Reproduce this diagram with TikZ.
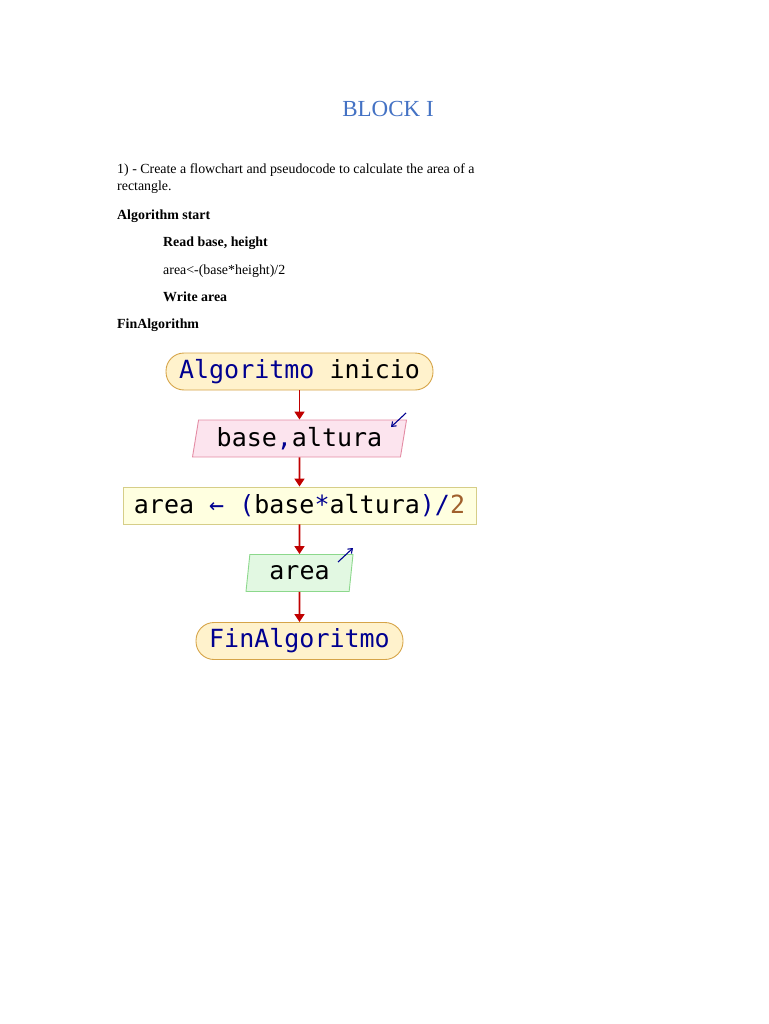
\documentclass[tikz,border=0pt]{standalone}
\usepackage{fontspec}
\setmainfont{Liberation Serif}
\newfontfamily\codefont{DejaVu Sans Mono}
\usetikzlibrary{arrows.meta,shapes.geometric}
\definecolor{termfill}{HTML}{FFF2CC}
\definecolor{termdraw}{HTML}{D6A448}
\definecolor{infill}{HTML}{FCE4EE}
\definecolor{indraw}{HTML}{E48CA4}
\definecolor{procfill}{HTML}{FFFFE0}
\definecolor{procdraw}{HTML}{D6CE88}
\definecolor{outfill}{HTML}{E2F8E2}
\definecolor{outdraw}{HTML}{8CD88C}
\definecolor{flowred}{HTML}{C00000}
\definecolor{kw}{HTML}{000090}
\definecolor{num}{HTML}{A0602D}
\definecolor{title}{HTML}{4472C4}
\tikzset{
  body/.style={anchor=base west,inner sep=0pt,font=\fontsize{13.9}{16}\selectfont},
  bbody/.style={body,font=\fontsize{13.9}{16}\selectfont\bfseries},
  term/.style={draw=termdraw,fill=termfill,line width=0.9pt,rounded corners=18pt,minimum height=37pt,inner sep=0pt,font=\codefont\fontsize{25}{30}\selectfont},
  proc/.style={draw=procdraw,fill=procfill,line width=0.9pt,minimum height=37pt,inner sep=0pt,font=\codefont\fontsize{25}{30}\selectfont},
  io/.style={trapezium,trapezium left angle=75,trapezium right angle=105,trapezium stretches body=true,line width=0.9pt,minimum height=37pt,inner sep=0pt,font=\codefont\fontsize{25}{30}\selectfont},
  flow/.style={draw=flowred,line width=1.6pt,-{Triangle[width=10pt,length=8pt]}},
  icon/.style={draw=kw,line width=1.1pt,-{Straight Barb[width=6pt,length=4pt]}}
}
\begin{document}
\begin{tikzpicture}[x=1pt,y=-1pt]
\useasboundingbox (0,0) rectangle (768,1024);
\node[anchor=base,inner sep=0pt,text=title,font=\fontsize{23}{26}\selectfont] (blk) at (388,117) {BLOCK I};
\node[body] (l1) at (117,174) {1) - Create a flowchart and pseudocode to calculate the area of a};
\node[body] (l2) at (117,191) {rectangle.};
\node[bbody] (l3) at (117,219) {Algorithm start};
\node[bbody] (l4) at (163,246) {Read base, height};
\node[body] (l5) at (163,274) {area<-(base*height)/2};
\node[bbody] (l6) at (163,301) {Write area};
\node[bbody] (l7) at (117,328) {FinAlgorithm};

\node[term,minimum width=267pt] (start) at (299.5,371.5) {\textcolor{kw}{Algoritmo} inicio};
\node[io,draw=indraw,fill=infill,minimum width=214pt] (in) at (299.5,438.5) {base\textcolor{kw}{,}altura};
\node[proc,minimum width=353pt] (proc) at (299.5,505.5) {area \textcolor{kw}{←} \textcolor{kw}{(}base\textcolor{kw}{*}altura\textcolor{kw}{)/}\textcolor{num}{2}};
\node[io,draw=outdraw,fill=outfill,minimum width=107pt] (out) at (299.5,573) {area};
\node[term,minimum width=207pt] (fin) at (299.5,641) {\textcolor{kw}{FinAlgoritmo}};

\draw[flow] (start) -- (in);
\draw[flow] (in) -- (proc);
\draw[flow] (proc) -- (out);
\draw[flow] (out) -- (fin);

\draw[icon] (406,413) -- (391,427);
\draw[icon] (338,562) -- (353,548);
\end{tikzpicture}
\end{document}
